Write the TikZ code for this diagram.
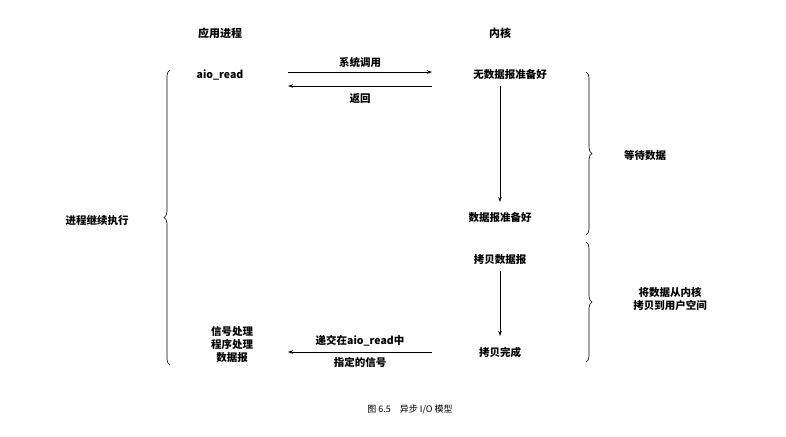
\documentclass[tikz,border=0pt]{standalone}
\usepackage{fontspec}
\setmainfont{Noto Sans CJK SC}
\usetikzlibrary{decorations.pathreplacing,arrows.meta}
\begin{document}
\begin{tikzpicture}[x=1pt,y=-1pt,
  lbl/.style={font=\fontsize{10.5}{13}\selectfont\bfseries,inner sep=1pt},
  hd/.style={font=\fontsize{11}{13}\selectfont\bfseries},
  arr/.style={-{Stealth[length=5pt,width=3.5pt]},line width=0.7pt},
  brc/.style={decorate,decoration={brace,amplitude=6pt},line width=0.6pt}]
\useasboundingbox (0,0) rectangle (786,436);
\node[hd] (h1) at (220,33) {应用进程};
\node[hd] (h2) at (500,33) {内核};
\node[lbl] (aio) at (220,75) {aio\_read};
\node[lbl] (nd) at (510,75) {无数据报准备好};
\coordinate (a1) at (288,72); \coordinate (a2) at (432,72);
\coordinate (b1) at (432,86); \coordinate (b2) at (288,86);
\draw[arr] (a1) -- node[lbl,above=3pt] {系统调用} (a2);
\draw[arr] (b1) -- node[lbl,below=6pt] {返回} (b2);
\node[lbl] (rd) at (500,218) {数据报准备好};
\draw[arr] (500,86) -- (500,202);
\node[lbl] (cp) at (500,260) {拷贝数据报};
\draw[arr] (cp.south) ++(0,5) -- (500,336);
\node[lbl] (done) at (500,352) {拷贝完成};
\coordinate (c1) at (432,352); \coordinate (c2) at (288,352);
\draw[arr] (c1) -- node[lbl,above=4pt] {递交在aio\_read中} node[lbl,below=4pt] {指定的信号} (c2);
\node[lbl,align=center] (sig) at (232,345) {信号处理\\程序处理\\数据报};
\draw[brc] (170,365) -- (170,70);
\node[lbl] (cont) at (97,220) {进程继续执行};
\draw[brc] (586,72) -- (586,235);
\node[lbl] (wait) at (645,155) {等待数据};
\draw[brc] (586,242) -- (586,362);
\node[lbl,align=center] (copy) at (670,299) {将数据从内核\\拷贝到用户空间};
\node[font=\fontsize{9}{11}\selectfont] (cap) at (410,410) {图 6.5\quad 异步 I/O 模型};
\end{tikzpicture}
\end{document}
